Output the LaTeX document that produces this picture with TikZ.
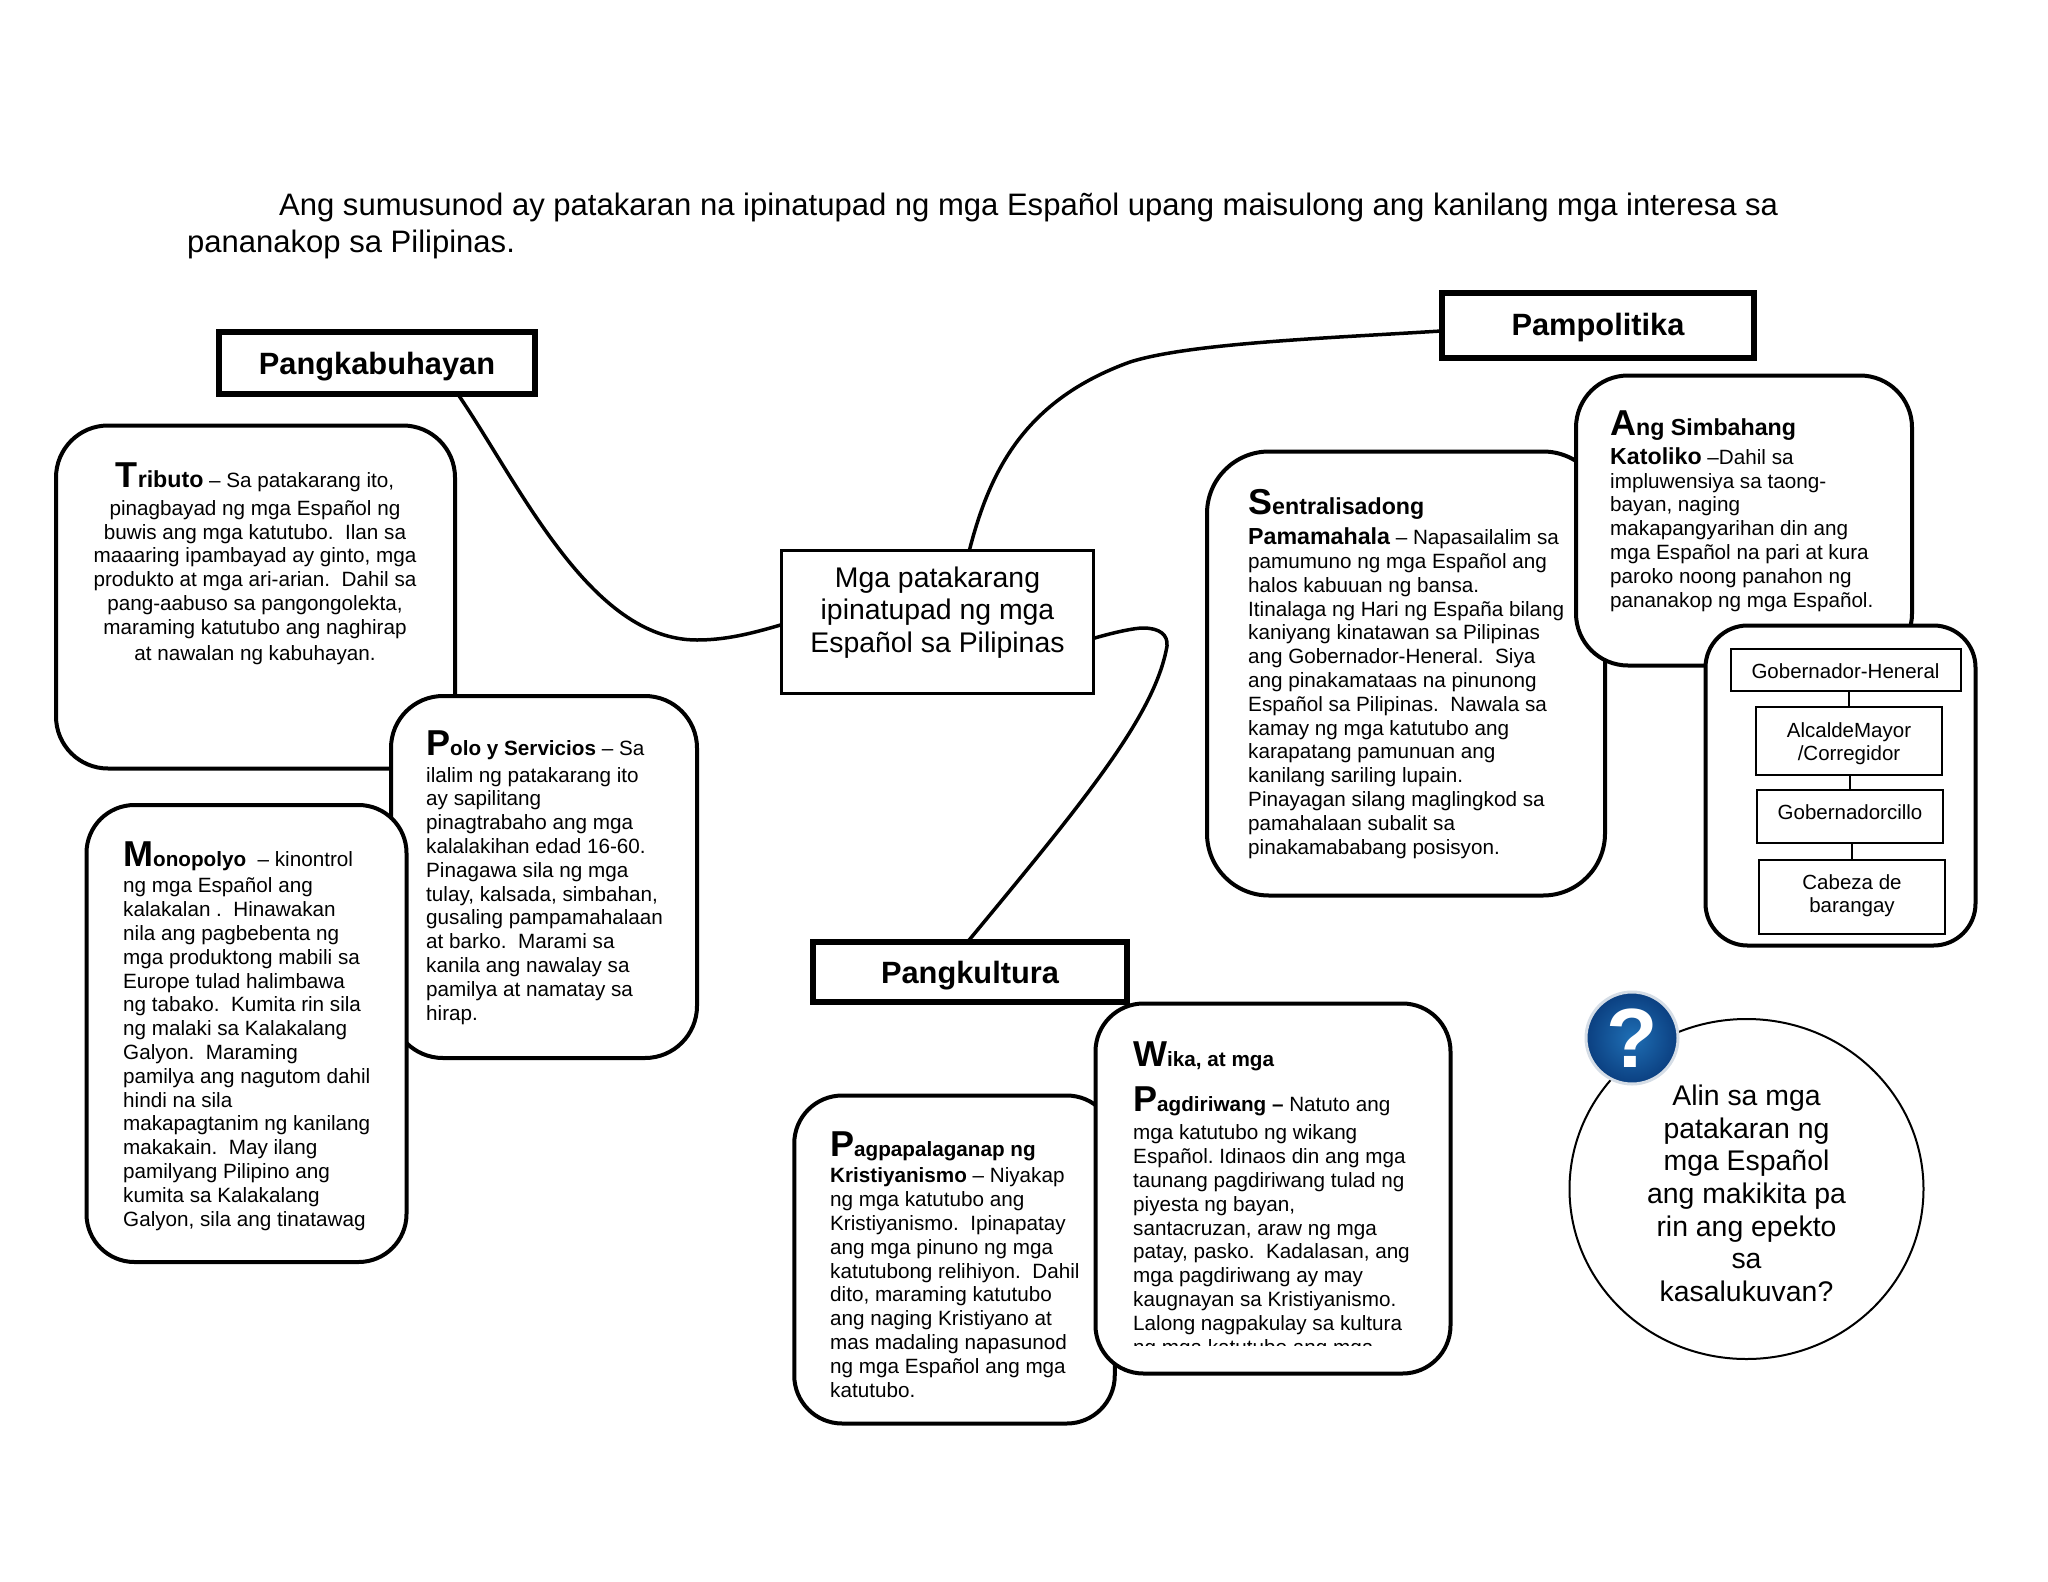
\documentclass[tikz,border=0pt]{standalone}
\usepackage{fontspec}
\setmainfont{Liberation Sans}
\usetikzlibrary{shapes.geometric}
\definecolor{qinner}{HTML}{1F6FB5}
\definecolor{qouter}{HTML}{0B3F80}
\definecolor{qrim}{HTML}{D5DDE6}
\newcommand{\bigin}[1]{{\fontsize{36}{36}\selectfont\bfseries #1}}
\newcommand{\boldlead}[1]{{\fontsize{23.2}{23.8}\selectfont\bfseries #1}}
\tikzset{
  card/.style={draw, line width=4pt, fill=white, rectangle, rounded corners=52pt, inner sep=0pt, outer sep=0pt},
  header/.style={draw, line width=6pt, fill=white, rectangle, inner sep=0pt, outer sep=0pt, font=\fontsize{30.8}{36}\selectfont\bfseries},
  orgbox/.style={draw, line width=2pt, fill=white, rectangle, inner sep=0pt, outer sep=0pt, align=center, font=\fontsize{20.5}{23.3}\selectfont},
  cardtext/.style={anchor=base west, align=left, inner sep=0pt, font=\frenchspacing\fontsize{20.67}{23.8}\selectfont},
  bigtext/.style={anchor=base, align=center, inner sep=0pt, font=\frenchspacing\fontsize{28.4}{32.7}\selectfont},
  link/.style={line width=3.5pt}
}
\begin{document}
\begin{tikzpicture}[x=1pt,y=-1pt]
\useasboundingbox (0,0) rectangle (2048,1582);
\node[anchor=base west, align=left, inner sep=0pt, font=\frenchspacing\fontsize{31.03}{37}\selectfont] (intro) at (187,252) {\hspace*{92pt}Ang sumusunod ay patakaran na ipinatupad ng mga Español upang maisulong ang kanilang mga interesa sa\\pananakop sa Pilipinas.};
\node[draw, line width=3.5pt, fill=white, rectangle, inner sep=0pt, outer sep=0pt, minimum width=312pt, minimum height=143pt] (policy) at (937.5,622) {};
\node[bigtext] (policytxt) at (937.5,652.6) {Mga patakarang\\ipinatupad ng mga\\Español sa Pilipinas};
\node[header, minimum width=316pt, minimum height=62pt, text height=25pt, text depth=3pt] (kabuhayan) at (377,363) {Pangkabuhayan};
\node[header, minimum width=312pt, minimum height=65pt, text height=23pt, text depth=3pt] (politika) at (1598,325.5) {Pampolitika};
\node[header, minimum width=314pt, minimum height=60pt, text height=27pt, text depth=3pt] (kultura) at (970,971.5) {Pangkultura};
\draw[link] (kabuhayan.-21.5) .. controls (520,485) and (590,640) .. (697,640) .. controls (725,640) and (750,634) .. (policy.181.5);
\draw[link] (policy.66.9) .. controls (990,470) and (1025,400) .. (1130,362) .. controls (1190,343) and (1330,338) .. (politika.182.6);
\draw[link] (policy.-6.2) .. controls (1115,632) and (1135,628) .. (1143,628) .. controls (1160,628) and (1168,635) .. (1167,646) .. controls (1155,715) and (1085,800) .. (kultura.94);
\node[card, minimum width=399pt, minimum height=343pt] (tributo) at (255.5,597) {};
\node[anchor=base, align=center, inner sep=0pt, font=\frenchspacing\fontsize{20.67}{23.8}\selectfont] (tributotxt) at (255,660) {\bigin{T}\boldlead{ributo} -- Sa patakarang ito,\\[3.5pt]pinagbayad ng mga Español ng\\buwis ang mga katutubo.~ Ilan sa\\maaaring ipambayad ay ginto, mga\\produkto at mga ari-arian.~ Dahil sa\\pang-aabuso sa pangongolekta,\\maraming katutubo ang naghirap\\[2pt]at nawalan ng kabuhayan.};
\node[card, minimum width=306pt, minimum height=362pt] (polo) at (544,877) {};
\node[cardtext] (polotxt) at (426,1020) {\bigin{P}\textbf{olo y Servicios} -- Sa\\[2.9pt]ilalim ng patakarang ito\\ay sapilitang\\pinagtrabaho ang mga\\kalalakihan edad 16-60.\\Pinagawa sila ng mga\\tulay, kalsada, simbahan,\\gusaling pampamahalaan\\at barko.~ Marami sa\\kanila ang nawalay sa\\pamilya at namatay sa\\hirap.};
\node[card, minimum width=320pt, minimum height=457pt, rounded corners=48pt] (monopolyo) at (246.5,1033.5) {};
\node[cardtext] (monopolyotxt) at (123,1226) {\bigin{M}\textbf{onopolyo}~ -- kinontrol\\[2.9pt]ng mga Español ang\\kalakalan .~ Hinawakan\\nila ang pagbebenta ng\\mga produktong mabili sa\\Europe tulad halimbawa\\ng tabako.~ Kumita rin sila\\ng malaki sa Kalakalang\\Galyon.~ Maraming\\pamilya ang nagutom dahil\\hindi na sila\\makapagtanim ng kanilang\\makakain.~ May ilang\\pamilyang Pilipino ang\\kumita sa Kalakalang\\Galyon, sila ang tinatawag};
\node[card, minimum width=320.5pt, minimum height=328pt, rounded corners=48pt] (kristiyano) at (954.5,1259.5) {};
\node[cardtext] (kristiyanotxt) at (830,1397) {\bigin{P}\textbf{agpapalaganap ng}\\[2.5pt]\textbf{Kristiyanismo} -- Niyakap\\ng mga katutubo ang\\Kristiyanismo.~ Ipinapatay\\ang mga pinuno ng mga\\katutubong relihiyon.~ Dahil\\dito, maraming katutubo\\ang naging Kristiyano at\\mas madaling napasunod\\ng mga Español ang mga\\katutubo.};
\node[card, minimum width=355pt, minimum height=370pt, rounded corners=48pt] (wika) at (1273,1188.5) {};
\begin{scope}
\clip (1120,1020) rectangle (1440,1345);
\node[cardtext] (wikatxt) at (1133,1354) {\bigin{W}\textbf{ika, at mga}\\[15pt]\bigin{P}\textbf{agdiriwang --} Natuto ang\\[4.5pt]mga katutubo ng wikang\\Español. Idinaos din ang mga\\taunang pagdiriwang tulad ng\\piyesta ng bayan,\\santacruzan, araw ng mga\\patay, pasko.~ Kadalasan, ang\\mga pagdiriwang ay may\\kaugnayan sa Kristiyanismo.\\Lalong nagpakulay sa kultura\\ng mga katutubo ang mga};
\end{scope}
\node[card, minimum width=398pt, minimum height=444pt, rounded corners=62pt] (sentral) at (1406,673.5) {};
\node[cardtext] (sentraltxt) at (1248,854) {\bigin{S}\boldlead{entralisadong}\\[6pt]\boldlead{Pamamahala} -- Napasailalim sa\\pamumuno ng mga Español ang\\halos kabuuan ng bansa.\\Itinalaga ng Hari ng España bilang\\kaniyang kinatawan sa Pilipinas\\ang Gobernador-Heneral.~ Siya\\ang pinakamataas na pinunong\\Español sa Pilipinas.~ Nawala sa\\kamay ng mga katutubo ang\\karapatang pamunuan ang\\kanilang sariling lupain.\\Pinayagan silang maglingkod sa\\pamahalaan subalit sa\\pinakamababang posisyon.};
\node[card, minimum width=336pt, minimum height=290pt] (simbahan) at (1744,520.5) {};
\node[cardtext] (simbahantxt) at (1610,607) {\bigin{A}\boldlead{ng Simbahang}\\[5pt]\boldlead{Katoliko} --Dahil sa\\impluwensiya sa taong-\\bayan, naging\\makapangyarihan din ang\\mga Español na pari at kura\\paroko noong panahon ng\\pananakop ng mga Español.};
\node[card, minimum width=270pt, minimum height=320pt, rounded corners=42pt] (org) at (1840.5,785.5) {};
\node[orgbox, minimum width=230pt, minimum height=42pt, text height=20pt, text depth=4pt] (heneral) at (1845.5,670) {Gobernador-Heneral};
\node[orgbox, minimum width=186pt, minimum height=68pt, text height=43.5pt] (alcalde) at (1849,741) {AlcaldeMayor\\/Corregidor};
\node[orgbox, minimum width=186pt, minimum height=53pt, text height=15pt, text depth=10pt] (gobcillo) at (1850,816.5) {Gobernadorcillo};
\node[orgbox, minimum width=186pt, minimum height=74pt, text depth=7pt] (cabeza) at (1852,897) {Cabeza de\\barangay};
\draw[line width=2pt] (heneral.south -| alcalde.north) -- (alcalde.north);
\draw[line width=2pt] (alcalde.south -| gobcillo.north) -- (gobcillo.north);
\draw[line width=2pt] (gobcillo.south -| cabeza.north) -- (cabeza.north);
\node[draw, line width=2pt, ellipse, inner sep=0pt, outer sep=0pt, minimum width=354pt, minimum height=340pt] (question) at (1746.5,1189) {};
\node[bigtext] (questiontxt) at (1746.5,1301.5) {Alin sa mga\\patakaran ng\\mga Español\\ang makikita pa\\rin ang epekto\\sa\\kasalukuvan?};
\node[circle, draw=qrim, line width=3pt, shading=radial, inner color=qinner, outer color=qouter, minimum size=92pt, inner sep=0pt, text=white, font=\fontsize{84}{84}\selectfont\bfseries] (qmark) at (1632,1038) {?};
\end{tikzpicture}
\end{document}
